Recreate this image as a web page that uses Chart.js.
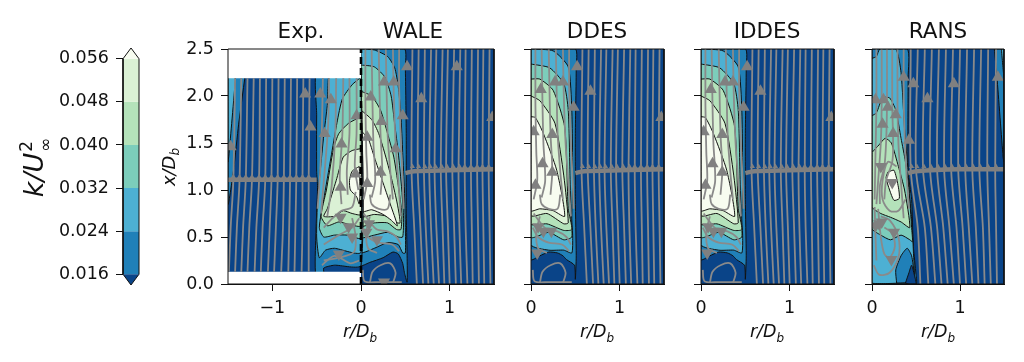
<!DOCTYPE html>
<html>
<head>
<meta charset="utf-8">
<script src="https://cdn.jsdelivr.net/npm/chart.js@4"></script>
<style>
  body { margin: 0; background: #fff; font-family: "DejaVu Sans", sans-serif; color: #111; }
  #stage { position: relative; width: 1024px; height: 362px; overflow: hidden; filter: blur(0.4px); }
  canvas { position: absolute; }
  .lbl { position: absolute; transform: translate(-50%, -50%); white-space: nowrap; }
  .title { font-size: 21.5px; top: 30px; }
  .axis { font-size: 17.5px; font-style: italic; top: 331px; }
  .axis sub { font-size: 12px; line-height: 0; }
  .rot { transform: translate(-50%, -50%) rotate(-90deg); }
  .stack { display: inline-block; position: relative; width: 14px; height: 10px; font-size: 17px; font-style: normal; }
  .stack b { position: absolute; left: 1px; font-weight: normal; line-height: 1; }
</style>
</head>
<body>
<div id="stage">
  <div class="lbl title" style="left:301px">Exp.</div>
  <div class="lbl title" style="left:413px">WALE</div>
  <div class="lbl title" style="left:597px">DDES</div>
  <div class="lbl title" style="left:767px">IDDES</div>
  <div class="lbl title" style="left:938px">RANS</div>
  <div class="lbl axis" style="left:360px">r/D<sub>b</sub></div>
  <div class="lbl axis" style="left:597px">r/D<sub>b</sub></div>
  <div class="lbl axis" style="left:767px">r/D<sub>b</sub></div>
  <div class="lbl axis" style="left:938px">r/D<sub>b</sub></div>
  <div class="lbl axis rot" style="left:168px;top:167px;font-size:18px">x/D<sub>b</sub></div>
  <div class="lbl rot" style="left:33px;top:168px;font-size:27px"><i>k/U</i><span class="stack"><b style="top:-15px">2</b><b style="top:4px">∞</b></span></div>
</div>
<script>
const cbTicks = [0.016, 0.024, 0.032, 0.04, 0.048, 0.056];
const levelColors = ["#2080b8", "#4db0d3", "#7ccdbb", "#b4e2ba", "#dbf1d5", "#f7fcf0"];
const darkColor = "#0a4488";
const yTicks = [0, 0.5, 1, 1.5, 2, 2.5];
const expWaleTicks = [-1, 0, 1];
const halfTicks = [0, 1];

// contour regions, one per level, lowest first: [r, x]
const walePolys = [
  [[0,2.5],[0.49,2.5],[0.5,2.3],[0.51,1.6],[0.51,0.8],[0.52,0.3],[0.52,0.02],[0.49,0.12],[0.47,0.22],[0.42,0.32],[0.36,0.34],[0.25,0.28],[0.1,0.23],[0,0.2]],
  [[0,2.5],[0.15,2.49],[0.3,2.42],[0.38,2.3],[0.42,2.1],[0.45,1.8],[0.47,1.4],[0.49,1],[0.5,0.6],[0.5,0.33],[0.47,0.33],[0.42,0.42],[0.3,0.44],[0.15,0.38],[0,0.34]],
  [[0,2.33],[0.15,2.31],[0.27,2.2],[0.34,2],[0.38,1.7],[0.42,1.4],[0.46,1],[0.48,0.7],[0.47,0.5],[0.42,0.5],[0.3,0.55],[0.15,0.52],[0,0.5]],
  [[0,2.05],[0.12,2],[0.22,1.85],[0.3,1.6],[0.37,1.35],[0.42,1.05],[0.46,0.75],[0.45,0.58],[0.4,0.58],[0.3,0.65],[0.15,0.65],[0,0.62]],
  [[0,1.85],[0.12,1.75],[0.2,1.6],[0.28,1.35],[0.35,1.1],[0.41,0.85],[0.44,0.65],[0.38,0.66],[0.3,0.72],[0.15,0.74],[0,0.72]],
  [[0,1.63],[0.08,1.55],[0.15,1.35],[0.24,1.1],[0.33,0.85],[0.41,0.62],[0.34,0.68],[0.25,0.74],[0.12,0.79],[0,0.77]],
];
const expPolys = [
  [[0,2.3],[-0.49,2.3],[-0.5,1.8],[-0.5,1.2],[-0.49,1.03],[-0.51,0.5],[-0.51,0.1],[-0.42,0.1],[-0.42,0.17],[-0.3,0.2],[0,0.2]],
  [[0,2.3],[-0.34,2.3],[-0.38,1.9],[-0.42,1.58],[-0.46,1.2],[-0.49,0.9],[-0.5,0.5],[-0.47,0.28],[-0.4,0.36],[-0.3,0.38],[0,0.34]],
  [[0,2.2],[-0.1,2.12],[-0.21,1.97],[-0.27,1.72],[-0.34,1.34],[-0.42,0.9],[-0.47,0.6],[-0.42,0.5],[-0.3,0.52],[-0.15,0.52],[0,0.49]],
  [[0,1.78],[-0.14,1.71],[-0.25,1.6],[-0.31,1.44],[-0.39,1],[-0.45,0.72],[-0.38,0.62],[-0.25,0.66],[-0.12,0.63],[0,0.62]],
  [[0,1.44],[-0.1,1.42],[-0.2,1.35],[-0.28,1.1],[-0.38,0.8],[-0.42,0.72],[-0.3,0.72],[-0.2,0.78],[-0.1,0.75],[0,0.74]],
  [[-0.02,1.25],[-0.1,1.2],[-0.13,1.1],[-0.12,1],[-0.05,0.93],[-0.02,0.85],[-0.01,1]],
];
const expCornerPolys = [
  [[-1.295,2.3],[-1.38,1.7],[-1.435,1.23],[-1.5,0.85],[-1.5,2.3]],
  [[-1.405,2.3],[-1.48,1.475],[-1.5,1.3],[-1.5,2.3]],
];
const expMasks = [
  [[-1.5,2.19],[0,2.19],[0,2.5],[-1.5,2.5]],
  [[-1.5,0],[0,0],[0,0.13],[-1.5,0.13]],
];
const ddesPolys = [
  [[0,2.5],[0.5,2.5],[0.51,2.3],[0.5,1.6],[0.5,0.9],[0.51,0.3],[0.5,0.05],[0.49,0.2],[0.4,0.26],[0.36,0.3],[0.3,0.33],[0.2,0.34],[0.1,0.3],[0,0.26]],
  [[0,2.5],[0.25,2.48],[0.42,2.31],[0.46,1.85],[0.47,1.15],[0.46,0.7],[0.47,0.5],[0.46,0.33],[0.37,0.36],[0.2,0.36],[0,0.42]],
  [[0,2.34],[0.21,2.3],[0.37,2.13],[0.42,1.85],[0.44,1.15],[0.45,0.7],[0.46,0.5],[0.37,0.47],[0.2,0.55],[0,0.5]],
  [[0,2.18],[0.1,2.18],[0.25,2.06],[0.38,1.67],[0.42,0.8],[0.46,0.58],[0.37,0.57],[0.18,0.64],[0,0.64]],
  [[0,2],[0.1,1.95],[0.27,1.71],[0.37,1.15],[0.42,0.65],[0.37,0.64],[0.18,0.75],[0,0.73]],
  [[0,1.78],[0.05,1.77],[0.14,1.6],[0.29,1.21],[0.38,0.72],[0.25,0.78],[0.1,0.8],[0,0.78]],
];
const ransLevels = [0, 1, 0, -1, 2, 3, 5, 0, 1];
const ransPolys = [
  [[0,2.5],[0.4,2.5],[0.41,2.2],[0.41,1.2],[0.45,0.9],[0.47,0.4],[0.5,0.1],[0.5,0],[0,0]],
  [[0,2.4],[0.05,2.42],[0.09,2.5],[0.27,2.5],[0.33,2.25],[0.37,1.65],[0.41,1.2],[0.43,0.9],[0.45,0.7],[0.47,0.35],[0.47,0.05],[0.3,0.01],[0,0.01]],
  [[0.28,0.01],[0.27,0.15],[0.33,0.3],[0.4,0.38],[0.45,0.3],[0.48,0.1],[0.47,0.02]],
  [[0.38,0.01],[0.42,0.12],[0.45,0.2],[0.48,0.1],[0.5,0],[0.42,0]],
  [[0,1.79],[0.05,1.82],[0.12,1.98],[0.2,1.98],[0.27,1.85],[0.33,1.55],[0.38,1.3],[0.42,1],[0.45,0.6],[0.46,0.45],[0.43,0.47],[0.33,0.52],[0.21,0.47],[0.1,0.52],[0,0.59]],
  [[0,1.4],[0.08,1.48],[0.15,1.55],[0.22,1.5],[0.3,1.25],[0.37,1],[0.43,0.6],[0.33,0.66],[0.21,0.71],[0.1,0.75],[0,0.82]],
  [[0.18,1.19],[0.25,1.21],[0.3,1.03],[0.31,0.91],[0.25,0.89],[0.2,1],[0.16,1.13]],
  [[1.39,2.5],[1.42,2.2],[1.49,1.35],[1.5,1.3],[1.5,2.5]],
  [[1.47,2.5],[1.5,2.2],[1.5,2.5]],
];

// streamlines: [r, x]
const outerStreams = [
  [[0.58,2.5],[0.57,1.22],[0.6,0.6],[0.63,0]],
  [[0.65,2.5],[0.64,1.22],[0.67,0.6],[0.7,0]],
  [[0.72,2.5],[0.71,1.22],[0.73,0.6],[0.76,0]],
  [[0.79,2.5],[0.77,1.22],[0.79,0.6],[0.82,0]],
  [[0.85,2.5],[0.83,1.22],[0.85,0.6],[0.88,0]],
  [[0.92,2.5],[0.9,1.22],[0.92,0.6],[0.94,0]],
  [[0.98,2.5],[0.96,1.22],[0.98,0.6],[1,0]],
  [[1.05,2.5],[1.03,1.22],[1.05,0.6],[1.07,0]],
  [[1.12,2.5],[1.1,1.22],[1.11,0.6],[1.13,0]],
  [[1.18,2.5],[1.17,1.22],[1.18,0.6],[1.2,0]],
  [[1.25,2.5],[1.24,1.22],[1.25,0.6],[1.26,0]],
  [[1.32,2.5],[1.31,1.22],[1.32,0.6],[1.33,0]],
  [[1.38,2.5],[1.37,1.22],[1.38,0.6],[1.39,0]],
  [[1.45,2.5],[1.44,1.22],[1.45,0.6],[1.46,0]],
];
const ransOuterStreams = [
  [[0.44,2.5],[0.44,1.22],[0.52,0.6],[0.55,0]],
  [[0.52,2.5],[0.5,1.22],[0.6,0.6],[0.64,0]],
  [[0.6,2.5],[0.58,1.22],[0.67,0.6],[0.72,0]],
  [[0.68,2.5],[0.66,1.22],[0.74,0.6],[0.79,0]],
  [[0.76,2.5],[0.74,1.22],[0.81,0.6],[0.86,0]],
  [[0.84,2.5],[0.82,1.22],[0.88,0.6],[0.93,0]],
  [[0.92,2.5],[0.9,1.22],[0.96,0.6],[1,0]],
  [[1,2.5],[0.98,1.22],[1.03,0.6],[1.07,0]],
  [[1.08,2.5],[1.06,1.22],[1.1,0.6],[1.14,0]],
  [[1.16,2.5],[1.14,1.22],[1.18,0.6],[1.21,0]],
  [[1.24,2.5],[1.22,1.22],[1.26,0.6],[1.28,0]],
  [[1.32,2.5],[1.31,1.22],[1.33,0.6],[1.35,0]],
  [[1.41,2.5],[1.4,1.22],[1.41,0.6],[1.42,0]],
];
const coreStreams = [
  [[0.05,2.5],[0.05,1.9],[0.06,1.4],[0.07,1.1],[0.03,0.9]],
  [[0.12,2.5],[0.13,1.9],[0.14,1.5],[0.16,1.1],[0.12,0.92]],
  [[0.2,2.5],[0.21,2],[0.22,1.6],[0.24,1.2],[0.22,0.95]],
  [[0.28,2.5],[0.29,2],[0.3,1.6],[0.33,1.2],[0.36,0.9]],
  [[0.36,2.5],[0.37,2],[0.39,1.5],[0.42,1.1],[0.45,0.72]],
  [[0.43,2.5],[0.43,2.1],[0.45,1.5],[0.47,1.1],[0.48,0.8]],
  [[0.1,0.95],[0.12,0.85],[0.2,0.8],[0.3,0.8],[0.33,0.95]],
  [[0.03,0.75],[0.1,0.66],[0.18,0.58],[0.3,0.56],[0.4,0.5],[0.45,0.42]],
  [[0.02,0.6],[0.08,0.5],[0.2,0.44],[0.35,0.42],[0.43,0.35]],
  [[0.1,0.72],[0.06,0.55],[0.08,0.38],[0.18,0.33]],
  [[0.02,0.15],[0.04,0.03],[0.2,0.02],[0.46,0.02]],
  [[0.1,0.01],[0.13,0.13],[0.22,0.2],[0.33,0.22],[0.39,0.12],[0.36,0.01]],
];
const ransCoreStreams = [
  [[0.05,2.5],[0.05,1.9],[0.04,1.4],[0.03,0.9]],
  [[0.11,2.5],[0.11,1.9],[0.1,1.5],[0.07,1.1],[0.05,0.85]],
  [[0.17,2.5],[0.17,1.9],[0.16,1.5],[0.14,1.25],[0.09,1.05],[0.09,0.85]],
  [[0.23,2.5],[0.23,1.9],[0.24,1.5],[0.23,1.3],[0.16,1.1],[0.14,0.9]],
  [[0.29,2.5],[0.29,1.9],[0.3,1.5],[0.32,1.2],[0.34,0.95],[0.36,0.7]],
  [[0.36,2.5],[0.36,2],[0.37,1.6],[0.39,1.2],[0.42,0.8]],
  [[0.03,0.82],[0.04,0.5],[0.05,0.25]],
  [[0.28,1.25],[0.18,1.3],[0.12,1.1],[0.12,0.9],[0.2,0.78],[0.3,0.78],[0.38,0.9]],
  [[0.07,0.8],[0.1,0.5],[0.14,0.32],[0.2,0.28],[0.26,0.4],[0.22,0.55],[0.14,0.6]],
  [[0.02,0.2],[0.08,0.1],[0.2,0.12],[0.3,0.28],[0.3,0.5],[0.2,0.68],[0.1,0.72]],
];
const expStreams = [
  [[-1.42,2.19],[-1.44,1.1],[-1.47,0.6],[-1.49,0.13]],
  [[-1.35,2.19],[-1.37,1.1],[-1.4,0.6],[-1.42,0.13]],
  [[-1.28,2.19],[-1.3,1.1],[-1.33,0.6],[-1.35,0.13]],
  [[-1.21,2.19],[-1.23,1.1],[-1.26,0.6],[-1.28,0.13]],
  [[-1.14,2.19],[-1.15,1.1],[-1.18,0.6],[-1.2,0.13]],
  [[-1.07,2.19],[-1.08,1.1],[-1.11,0.6],[-1.13,0.13]],
  [[-1,2.19],[-1.01,1.1],[-1.03,0.6],[-1.05,0.13]],
  [[-0.93,2.19],[-0.94,1.1],[-0.96,0.6],[-0.98,0.13]],
  [[-0.86,2.19],[-0.87,1.1],[-0.88,0.6],[-0.9,0.13]],
  [[-0.79,2.19],[-0.8,1.1],[-0.81,0.6],[-0.82,0.13]],
  [[-0.72,2.19],[-0.73,1.1],[-0.74,0.6],[-0.75,0.13]],
  [[-0.65,2.19],[-0.66,1.1],[-0.66,0.6],[-0.67,0.13]],
  [[-0.58,2.19],[-0.59,1.1],[-0.59,0.6],[-0.59,0.13]],
  [[-0.05,2.19],[-0.05,1.6],[-0.07,1.25],[-0.03,1]],
  [[-0.13,2.19],[-0.13,1.6],[-0.16,1.2],[-0.15,0.95]],
  [[-0.2,2.19],[-0.21,1.6],[-0.24,1.15],[-0.22,0.85]],
  [[-0.28,2.19],[-0.29,1.6],[-0.33,1.05],[-0.38,0.72]],
  [[-0.36,2.19],[-0.37,1.7],[-0.41,1.2],[-0.45,0.75]],
  [[-0.43,2.19],[-0.44,1.7],[-0.46,1.2],[-0.49,0.8]],
  [[-0.06,0.98],[-0.1,0.82],[-0.22,0.78],[-0.32,0.7],[-0.42,0.6]],
  [[-0.02,0.7],[-0.1,0.6],[-0.25,0.52],[-0.42,0.42]],
  [[-0.1,0.7],[-0.06,0.5],[-0.08,0.34],[-0.25,0.28],[-0.42,0.25]],
  [[-0.02,0.25],[-0.12,0.22],[-0.3,0.3],[-0.44,0.2]],
];

// shock band along each panel's outer flow
const shockLine = [[0.5,1.18],[0.6,1.2],[1,1.21],[1.5,1.22]];
const ransShockLine = [[0.41,1.18],[0.5,1.2],[1,1.22],[1.5,1.22]];
const expShockLine = [[-1.5,1.11],[-1,1.11],[-0.5,1.11]];
const shockTeeth = [[0.58,1.25],[0.65,1.25],[0.72,1.25],[0.78,1.25],[0.84,1.25],[0.91,1.25],[0.97,1.25],[1.04,1.25],[1.11,1.25],[1.17,1.25],[1.24,1.25],[1.31,1.25],[1.37,1.25],[1.44,1.25]];
const ransShockTeeth = [[0.45,1.25],[0.51,1.25],[0.59,1.25],[0.67,1.25],[0.75,1.25],[0.83,1.25],[0.91,1.25],[0.99,1.25],[1.07,1.25],[1.15,1.25],[1.23,1.25],[1.32,1.25],[1.41,1.25]];
const expShockTeeth = [[-1.44,1.14],[-1.37,1.14],[-1.3,1.14],[-1.23,1.14],[-1.15,1.14],[-1.08,1.14],[-1.01,1.14],[-0.94,1.14],[-0.87,1.14],[-0.8,1.14],[-0.73,1.14],[-0.66,1.14],[-0.59,1.14]];

// arrow heads
const waleUp = [[0.52,2.31],[1.08,2.31],[0.68,1.97],[1.48,1.77],[0.26,2.15],[0.37,2.15],[0.11,1.99],[0.23,1.73],[0.07,1.56],[0.47,1.79],[0.39,1.44],[0.22,1.19],[0.07,1.07]];
const waleDown = [[0.09,0.64],[0.18,0.47],[0.06,0.55],[0.26,0.02]];
const expUp = [[-0.63,2.02],[-0.46,2.02],[-0.34,1.96],[-0.57,1.67],[-1.47,1.46],[-0.41,1.6],[-0.05,1.79],[-0.22,1.49],[-0.06,1.17],[-0.23,1.03]];
const expDown = [[-0.23,0.71],[-0.14,0.61],[-0.1,0.5],[-0.25,0.32]];
const ddesUp = [[0.52,2.31],[0.67,2.05],[1.47,1.77],[0.48,1.88],[0.27,2.15],[0.36,2.15],[0.11,2.07],[0.03,1.62],[0.24,1.59],[0.24,1.19],[0.13,1.28],[0.05,1.05]];
const ddesDown = [[0.08,0.61],[0.23,0.56],[0.07,0.33],[0.14,0.56]];
const ransUp = [[0.36,2.2],[0.47,2.13],[0.63,1.97],[0.93,2.13],[1.43,2.2],[0.42,1.53],[0.27,1.8],[0.18,1.88],[0.13,1.96],[0.04,1.96],[0.12,1.7],[0.24,1.6]];
const ransDown = [[0.1,1.25],[0.23,1.08],[0.11,0.66],[0.25,0.55],[0.04,0.62],[0.22,0.26],[0.08,0.64]];

function xy(pts) {
  return pts.map((p) => ({ x: p[0], y: p[1] }));
}
function close(pts) {
  return pts.concat([pts[0]]);
}

function polyDataset(pts, color, border, tension) {
  return {
    data: xy(close(pts)),
    showLine: true,
    pointRadius: 0,
    borderColor: border ? "#111" : "transparent",
    borderWidth: border ? 1 : 0,
    backgroundColor: color,
    fill: "shape",
    tension: tension === undefined ? 0.2 : tension,
  };
}
function lineDataset(pts, color, width, extra) {
  return Object.assign(
    { data: xy(pts), showLine: true, pointRadius: 0, borderColor: color, borderWidth: width, fill: false, tension: 0.3 },
    extra || {}
  );
}
function arrowDataset(pts, rotation, radius) {
  return {
    data: xy(pts),
    showLine: false,
    pointStyle: "triangle",
    pointRadius: radius,
    pointRotation: rotation,
    pointBackgroundColor: "#808080",
    pointBorderWidth: 0,
  };
}

function fixedAxis(opts) {
  return {
    type: "linear",
    min: opts.min,
    max: opts.max,
    display: opts.display === undefined ? true : opts.display,
    grid: { drawOnChartArea: false, drawTicks: true, tickLength: 7, tickColor: "#111", tickWidth: 1 },
    border: { display: true, color: "#111", width: 1 },
    ticks: { color: "#111", padding: 7, font: { family: "DejaVu Sans", size: 17.5 }, maxRotation: 0, autoSkip: false, callback: opts.callback },
    afterBuildTicks: (s) => { s.ticks = opts.ticks.map((v) => ({ value: v })); },
    // tick labels must not push the plot area in
    afterFit: (s) => {
      opts.fit(s);
      s.paddingTop = s.paddingBottom = s.paddingLeft = s.paddingRight = 0;
    },
  };
}

const PAD = 15, AXIS_W = 50, AXIS_H = 36;

function makePanel(left, right, top, bottom, xMin, xMax, xTicks, showY, layers) {
  const canvas = document.createElement("canvas");
  canvas.width = right - left + AXIS_W + PAD;
  canvas.height = bottom - top + AXIS_H + PAD;
  canvas.style.left = left - AXIS_W + "px";
  canvas.style.top = top - PAD + "px";
  document.getElementById("stage").appendChild(canvas);

  // first dataset is drawn last in Chart.js, layers are listed bottom first
  const datasets = layers.slice().reverse();
  new Chart(canvas, {
    type: "scatter",
    data: { datasets },
    options: {
      responsive: false,
      animation: false,
      events: [],
      layout: { autoPadding: false, padding: { left: 0, top: PAD, right: PAD, bottom: 0 } },
      plugins: { legend: { display: false }, tooltip: { enabled: false } },
      scales: {
        x: fixedAxis({
          min: xMin, max: xMax, ticks: xTicks,
          callback: (v) => String(v).replace("-", "\u2212"),
          fit: (s) => { s.height = AXIS_H; },
        }),
        y: fixedAxis({
          min: 0, max: 2.5, ticks: yTicks,
          callback: (v) => (showY ? v.toFixed(1) : ""),
          fit: (s) => { s.width = AXIS_W; },
        }),
      },
    },
  });
}

function contourLayers(polys, levels) {
  return polys.map((p, i) => polyDataset(p, levelColors[levels ? levels[i] : i] || darkColor, true));
}
function streamLayers(streams, color) {
  return streams.map((s) => lineDataset(s, color || "#8a8a8a", 1.8));
}
function frame(xMin, xMax) {
  return lineDataset([[xMin, 0], [xMin, 2.5], [xMax, 2.5], [xMax, 0], [xMin, 0]], "#111", 1, { clip: false, tension: 0 });
}
function background(xMin, xMax) {
  return polyDataset([[xMin, 0], [xMax, 0], [xMax, 2.5], [xMin, 2.5]], darkColor, false, 0);
}

makePanel(228, 494, 48.5, 284, -1.5, 1.5, expWaleTicks, true, [
  background(-1.5, 1.5),
  ...contourLayers(walePolys),
  ...contourLayers(expCornerPolys, [0, 1]),
  ...contourLayers(expPolys),
  ...expMasks.map((m) => polyDataset(m, "#ffffff", false, 0)),
  ...streamLayers(outerStreams),
  ...streamLayers(coreStreams),
  ...streamLayers(expStreams),
  lineDataset(shockLine, "#808080", 4.5),
  lineDataset(expShockLine, "#808080", 4.5),
  arrowDataset(shockTeeth, 0, 3),
  arrowDataset(expShockTeeth, 0, 3),
  arrowDataset(waleUp, 0, 7),
  arrowDataset(expUp, 0, 7),
  arrowDataset(waleDown, 180, 7),
  arrowDataset(expDown, 180, 7),
  lineDataset([[0, 0], [0, 2.5]], "#000", 2.6, { borderDash: [7, 4], tension: 0 }),
  frame(-1.5, 1.5),
]);

function halfPanel(left, right, polys, levels, core, outer, shock, teeth, up, down) {
  makePanel(left, right, 48.5, 284, 0, 1.5, halfTicks, false, [
    background(0, 1.5),
    ...contourLayers(polys, levels),
    ...streamLayers(outer),
    ...streamLayers(core),
    lineDataset(shock, "#808080", 4.5),
    arrowDataset(teeth, 0, 3),
    arrowDataset(up, 0, 7),
    arrowDataset(down, 180, 7),
    frame(0, 1.5),
  ]);
}
halfPanel(531, 664, ddesPolys, null, coreStreams, outerStreams, shockLine, shockTeeth, ddesUp, ddesDown);
halfPanel(701, 834, ddesPolys, null, coreStreams, outerStreams, shockLine, shockTeeth, ddesUp, ddesDown);
halfPanel(872, 1004, ransPolys, ransLevels, ransCoreStreams, ransOuterStreams, ransShockLine, ransShockTeeth, ransUp, ransDown);

// colorbar
const cbCanvas = document.createElement("canvas");
cbCanvas.width = 90;
cbCanvas.height = 250;
cbCanvas.style.left = "52px";
cbCanvas.style.top = "43px";
document.getElementById("stage").appendChild(cbCanvas);
const cbLayers = [];
for (let i = 0; i < cbTicks.length - 1; i++) {
  cbLayers.push(polyDataset([[0, cbTicks[i]], [1, cbTicks[i]], [1, cbTicks[i + 1]], [0, cbTicks[i + 1]]], levelColors[i], false, 0));
}
const tipLow = polyDataset([[0, 0.016], [1, 0.016], [0.5, 0.014]], darkColor, false, 0);
const tipHigh = polyDataset([[0, 0.056], [1, 0.056], [0.5, 0.058]], levelColors[5], false, 0);
const cbOutline = lineDataset([[0, 0.016], [0.5, 0.014], [1, 0.016], [1, 0.056], [0.5, 0.058], [0, 0.056], [0, 0.016]], "#111", 1, { tension: 0, clip: false });
new Chart(cbCanvas, {
  type: "scatter",
  data: { datasets: [cbOutline, tipHigh, tipLow, ...cbLayers.reverse()] },
  options: {
    responsive: false,
    animation: false,
    events: [],
    layout: { autoPadding: false, padding: { left: 0, top: 5, right: 3, bottom: 8 } },
    plugins: { legend: { display: false }, tooltip: { enabled: false } },
    scales: {
      x: { type: "linear", min: 0, max: 1, display: false },
      y: Object.assign(
        fixedAxis({
          min: 0.014, max: 0.058, ticks: cbTicks,
          callback: (v) => v.toFixed(3),
          fit: (s) => { s.width = 71; },
        }),
        { border: { display: false } }
      ),
    },
  },
});
</script>
</body>
</html>
